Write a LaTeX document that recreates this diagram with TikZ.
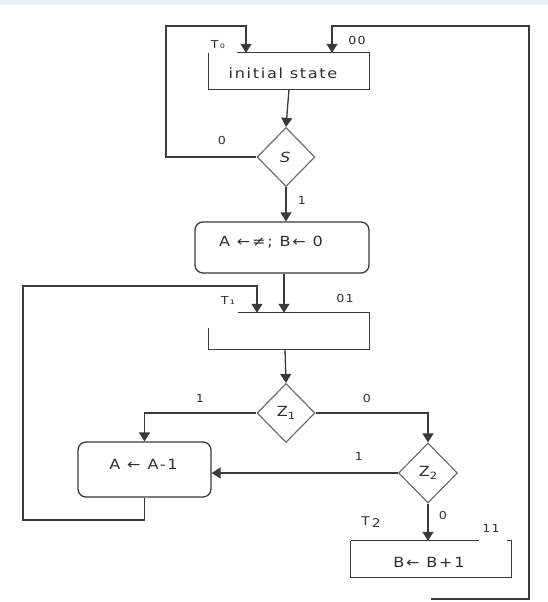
\documentclass[tikz,border=0pt]{standalone}
\usepackage{fontspec}
\setmainfont{DejaVu Sans}[LetterSpace=12,FakeStretch=1.15]
\usetikzlibrary{shapes.geometric,arrows.meta}
\definecolor{ln}{HTML}{3A3A3A}
\definecolor{dg}{HTML}{6E6E6E}
\definecolor{tx}{HTML}{2E2E2E}
\definecolor{band}{HTML}{E8F0F4}
\newcommand{\sbs}[1]{{\fontsize{10}{10}\selectfont\raisebox{-3pt}{#1}}}
\begin{document}
\begin{tikzpicture}[x=1pt,y=-1pt,
  line/.style={draw=ln, line width=1.3pt},
  arr/.style={line, -{Triangle[length=9pt,width=11pt]}},
  box/.style={inner sep=0pt, text=tx, font=\fontsize{14}{16}\selectfont},
  rbox/.style={box, draw=ln, line width=1.3pt, rounded corners=8pt},
  dia/.style={diamond, draw=dg, line width=1.2pt, inner sep=0pt, text=tx,
    minimum width=58pt, minimum height=59pt, font=\fontsize{14}{16}\selectfont},
  lbl/.style={inner sep=0pt, text=tx, font=\fontsize{11}{12}\selectfont}]
\useasboundingbox (0,0) rectangle (548,602);
\fill[white] (0,0) rectangle (548,602);
\fill[band] (0,0) rectangle (548,5);
% nodes
\node[box, minimum width=160pt, minimum height=36pt,
  label={[box, xshift=-6pt, yshift=-2pt]center:{initial state}}] (init) at (289,71) {};
\node[dia] (S) at (286,157) {\textit{S}};
\node[rbox, minimum width=174pt, minimum height=51pt,
  label={[box, xshift=-11pt, yshift=5pt]center:{A ←≠; B← 0}}] (r1) at (282,247.5) {};
\node[box, minimum width=160pt, minimum height=36pt] (t1) at (289,331) {};
\node[dia] (Z1) at (286,413) {Z\sbs{1}};
\node[rbox, minimum width=133pt, minimum height=55pt,
  label={[box, xshift=-1pt, yshift=5pt]center:{A ← A-1}}] (A) at (144.5,469.5) {};
\node[dia, minimum width=59pt, minimum height=60pt] (Z2) at (428,473) {Z\sbs{2}};
\node[box, minimum width=160pt, minimum height=36pt,
  label={[box, xshift=-2pt, yshift=-3pt]center:{B← B+1}}] (B) at (431,559) {};
% box outlines with gaps
\draw[line] ([xshift=28pt]init.north west) -- (init.north east) -- (init.south east) -- (init.south west) -- (init.north west);
\draw[line] ([xshift=29pt]t1.north west) -- (t1.north east) -- (t1.south east) -- (t1.south west) -- ([yshift=-15pt]t1.north west);
\draw[line] (B.north west) -- ([xshift=-32pt]B.north east);
\draw[line] ([xshift=-4pt]B.north east) -- (B.north east) -- (B.south east) -- (B.south west) -- (B.north west);
% free corner points
\coordinate (c0a) at (166,157);
\coordinate (c0b) at (166,26);
\coordinate (c00a) at (430,599);
\coordinate (c00b) at (529,599);
\coordinate (c00c) at (529,26);
\coordinate (c1a) at (144,520);
\coordinate (c1b) at (23,520);
\coordinate (c1c) at (23,286);
% connectors
\draw[arr] (S.west) -- (c0a) -- (c0b) -- (c0b -| 246,0) -- (246,0 |- init.north);
\draw[arr] (c00a -| B.south) -- (c00b) -- (c00c) -- (c00c -| 332,0) -- (332,0 |- init.north);
\draw[arr] (init.south) -- (S.north);
\draw[arr] (S.south) -- (S.south |- r1.north);
\draw[arr] ([xshift=2pt]r1.south) -- ([xshift=2pt]r1.south |- t1.north);
\draw[arr] (A.south) -- (A.south |- c1a) -- (c1b) -- (c1c) -- (c1c -| 257,0) -- (257,0 |- t1.north);
\draw[arr] ([xshift=-4pt]t1.south) -- (Z1.north);
\draw[arr] (Z1.west) -| (A.north);
\draw[arr] (Z1.east) -| (Z2.north);
\draw[arr] (Z2.west) -- (Z2.west -| A.east);
\draw[arr] (Z2.south) -- (Z2.south |- B.north);
% labels
\node[lbl] (l0) at (222,140) {0};
\node[lbl] (lT0) at (218,45) {T₀};
\node[lbl] (l00) at (357,40) {00};
\node[lbl] (l1a) at (302,200) {1};
\node[lbl] (lT1) at (228,300) {T₁};
\node[lbl] (l01) at (345,298) {01};
\node[lbl] (l1b) at (200,398) {1};
\node[lbl] (l0b) at (367,398) {0};
\node[lbl] (l1c) at (359,456) {1};
\node[lbl] (l0c) at (443,515) {0};
\node[lbl, font=\fontsize{12}{13}\selectfont] (lT2) at (371,522) {T\,\raisebox{-2pt}{2}};
\node[lbl] (l11) at (491,528) {11};
\end{tikzpicture}
\end{document}
